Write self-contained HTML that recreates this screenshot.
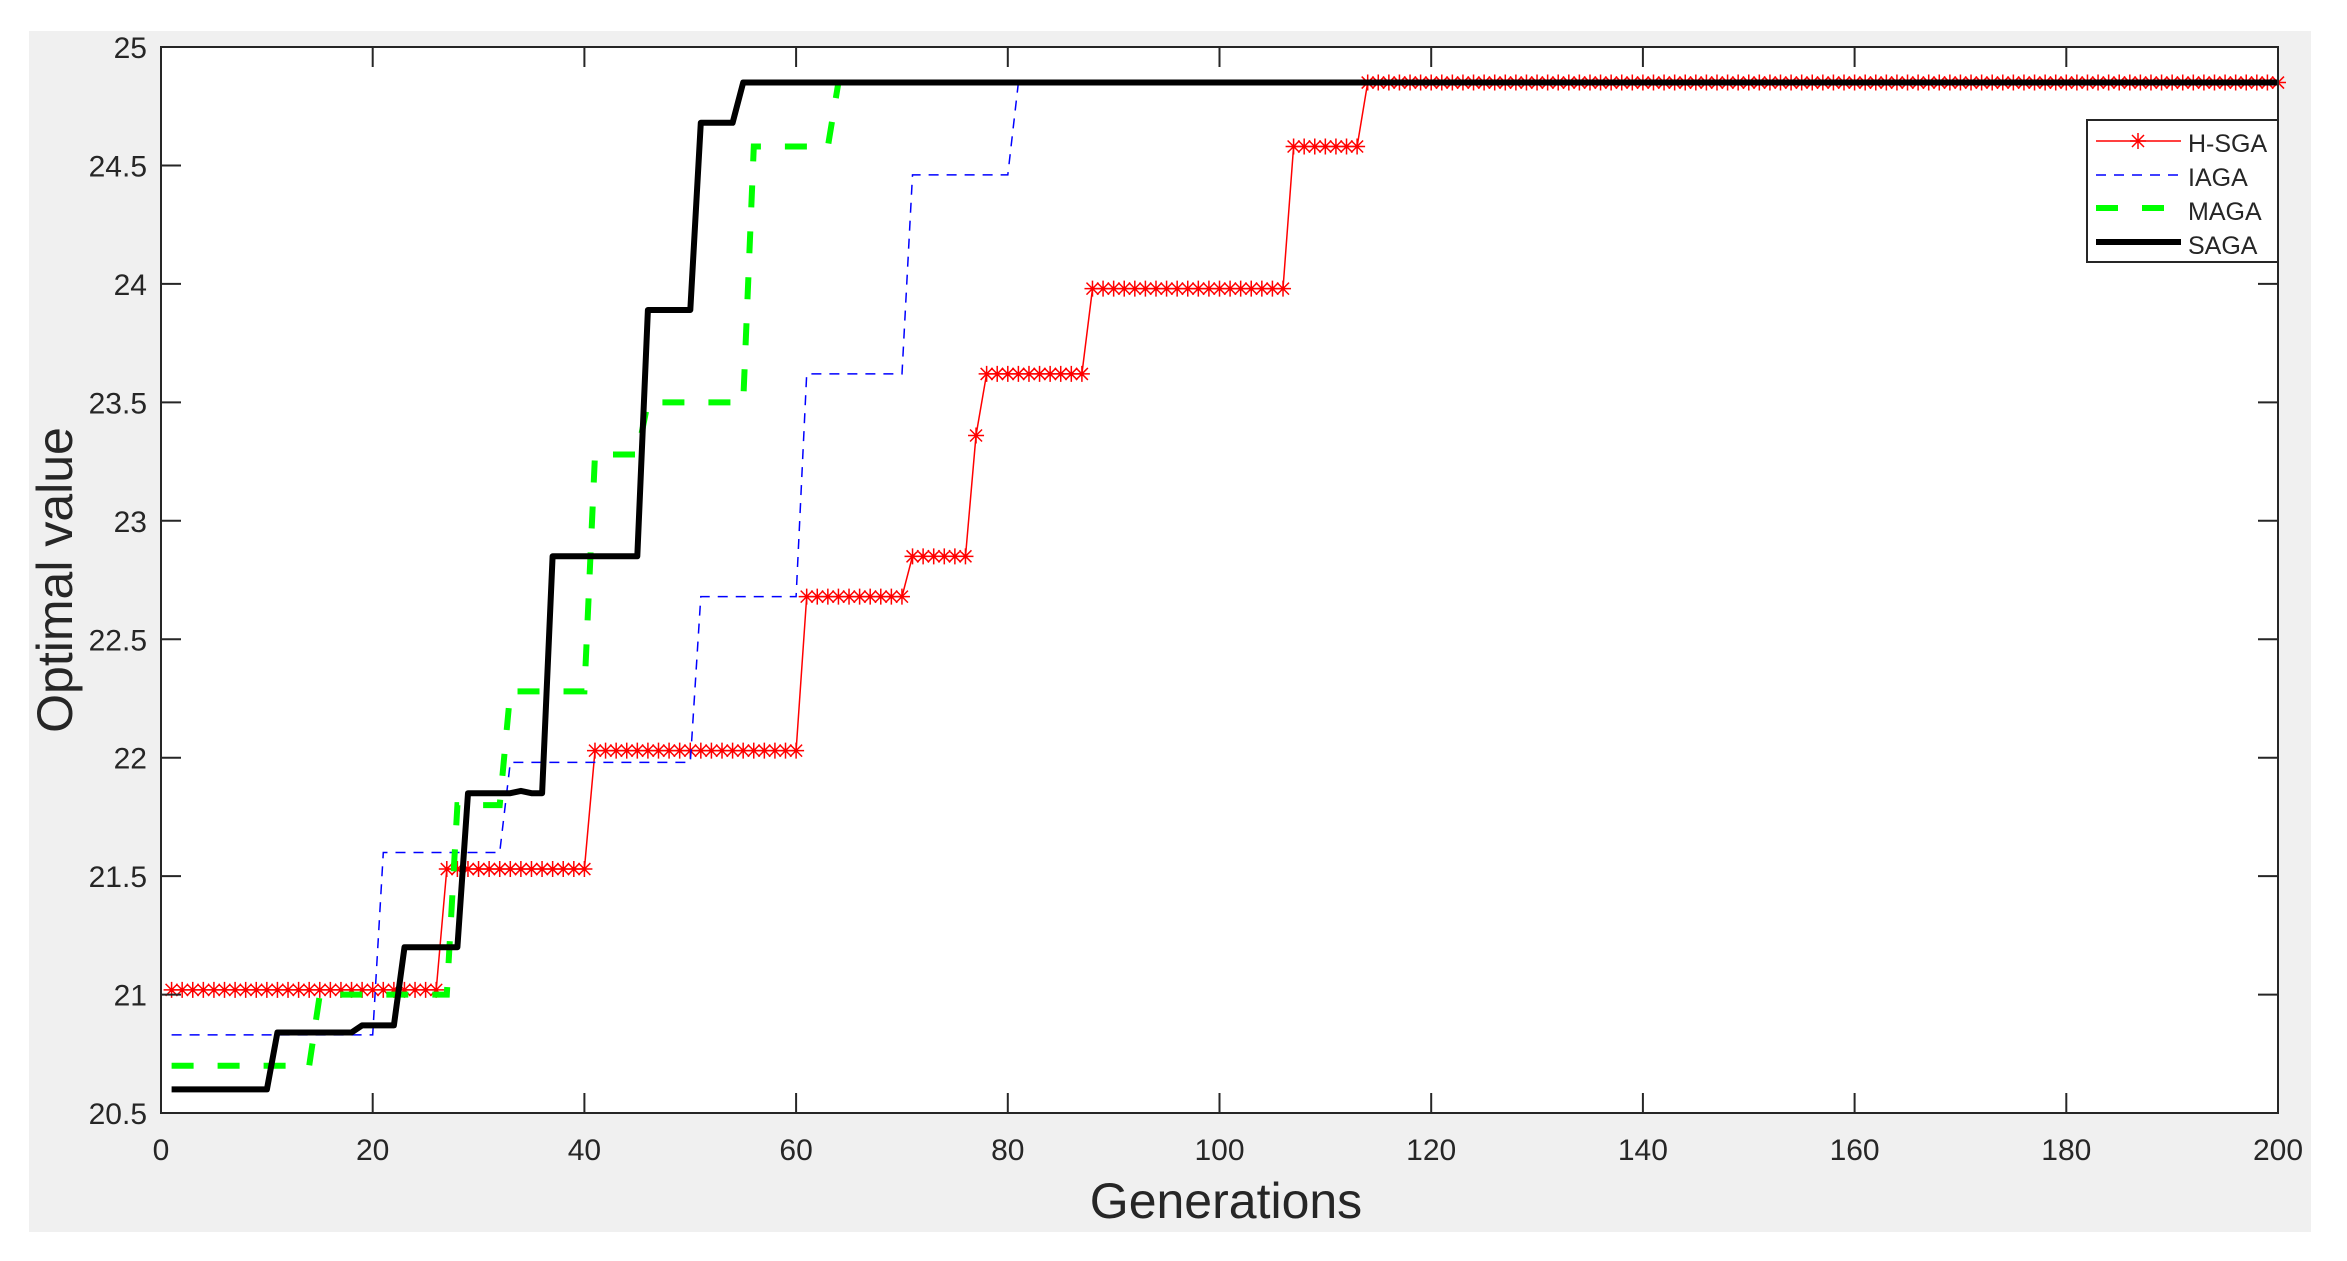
<!DOCTYPE html>
<html><head><meta charset="utf-8">
<style>
html,body{margin:0;padding:0;background:#fff;}
svg{display:block;}
text{font-family:"Liberation Sans",Arial,sans-serif;fill:#262626;}
</style></head>
<body>
<svg id="s" width="2347" height="1261" xmlns="http://www.w3.org/2000/svg">
<rect x="29" y="31" width="2282" height="1201" fill="#f0f0f0"/>
<rect x="161" y="47" width="2117" height="1066" fill="#fff"/>
<g id="series"></g>
<rect x="161" y="47" width="2117" height="1066" fill="none" stroke="#262626" stroke-width="2"/>
<g id="ticks"></g>
<text x="1226" y="1218" font-size="50" text-anchor="middle">Generations</text>
<text transform="translate(72,580) rotate(-90)" font-size="50" text-anchor="middle">Optimal value</text>
<g>
<rect x="2087" y="120" width="191" height="142" fill="#fff" stroke="#262626" stroke-width="2"/>
<line x1="2096" y1="141" x2="2181" y2="141" stroke="#f00" stroke-width="1.5"/>
<g stroke="#f00" stroke-width="1.5"><line x1="2138" y1="133" x2="2138" y2="149"/><line x1="2130" y1="141" x2="2146" y2="141"/><line x1="2132" y1="135" x2="2144" y2="147"/><line x1="2132" y1="147" x2="2144" y2="135"/></g>
<line x1="2096" y1="175" x2="2181" y2="175" stroke="#00f" stroke-width="1.5" stroke-dasharray="10,8"/>
<line x1="2096" y1="208" x2="2181" y2="208" stroke="#0f0" stroke-width="6" stroke-dasharray="22,24"/>
<line x1="2096" y1="242" x2="2181" y2="242" stroke="#000" stroke-width="6"/>
<text x="2188" y="152" font-size="25" fill="#000">H-SGA</text>
<text x="2188" y="186" font-size="25" fill="#000">IAGA</text>
<text x="2188" y="220" font-size="25" fill="#000">MAGA</text>
<text x="2188" y="254" font-size="25" fill="#000">SAGA</text>
</g>
</svg>
<script>
var NS="http://www.w3.org/2000/svg";
function X(g){return 161+g*10.585;}
function Y(v){return 47+(25-v)*236.9;}
function el(p,n,a){var e=document.createElementNS(NS,n);for(var k in a)e.setAttribute(k,a[k]);p.appendChild(e);return e;}
var tk=document.getElementById('ticks');
for(var g=0;g<=200;g+=20){var x=X(g);
 el(tk,'line',{x1:x,y1:1113,x2:x,y2:1093,stroke:'#262626','stroke-width':2});
 el(tk,'line',{x1:x,y1:47,x2:x,y2:67,stroke:'#262626','stroke-width':2});
 var t=el(tk,'text',{x:x,y:1160,'font-size':30,'text-anchor':'middle'});t.textContent=g;}
for(var v=20.5;v<=25.001;v+=0.5){var y=Y(v);
 el(tk,'line',{x1:161,y1:y,x2:181,y2:y,stroke:'#262626','stroke-width':2});
 if(y>120&&y<1100) el(tk,'line',{x1:2278,y1:y,x2:2258,y2:y,stroke:'#262626','stroke-width':2});
 var t=el(tk,'text',{x:147,y:y+11,'font-size':30,'text-anchor':'end'});t.textContent=(v%1===0)?v.toFixed(0):v.toFixed(1);}
function build(steps){var a=[];for(var g=1;g<=200;g++){var val=steps[0][1];for(var i=0;i<steps.length;i++){if(g>=steps[i][0])val=steps[i][1];}a.push(val);}return a;}
var H=build([[1,21.02],[27,21.53],[41,22.03],[61,22.68],[71,22.85],[77,23.36],[78,23.62],[88,23.98],[107,24.58],[114,24.85]]);
var I=build([[1,20.83],[21,21.6],[33,21.98],[51,22.68],[61,23.62],[71,24.46],[81,24.85]]);
var M=build([[1,20.7],[15,21.0],[28,21.8],[33,22.28],[41,23.28],[46,23.5],[56,24.58],[64,24.85]]);
var S=build([[1,20.6],[11,20.84],[19,20.87],[23,21.2],[29,21.85],[34,21.86],[35,21.85],[37,22.85],[46,23.89],[51,24.68],[55,24.85]]);
function pts(a){return a.map(function(v,i){return X(i+1).toFixed(1)+','+Y(v).toFixed(1);}).join(' ');}
var sg=document.getElementById('series');
el(sg,'polyline',{points:pts(H),fill:'none',stroke:'#f00','stroke-width':1.5});
var mk='';H.forEach(function(v,i){var x=X(i+1),y=Y(v);
 mk+='M'+x+','+(y-8)+'V'+(y+8)+'M'+(x-8)+','+y+'H'+(x+8)+'M'+(x-6)+','+(y-6)+'L'+(x+6)+','+(y+6)+'M'+(x-6)+','+(y+6)+'L'+(x+6)+','+(y-6);});
el(sg,'path',{d:mk,fill:'none',stroke:'#f00','stroke-width':1.5});
el(sg,'polyline',{points:pts(I),fill:'none',stroke:'#00f','stroke-width':1.5,'stroke-dasharray':'10,8'});
el(sg,'polyline',{points:pts(M),fill:'none',stroke:'#0f0','stroke-width':6,'stroke-dasharray':'22,24'});
el(sg,'polyline',{points:pts(S),fill:'none',stroke:'#000','stroke-width':6,'stroke-linejoin':'round'});
</script>
</body></html>
